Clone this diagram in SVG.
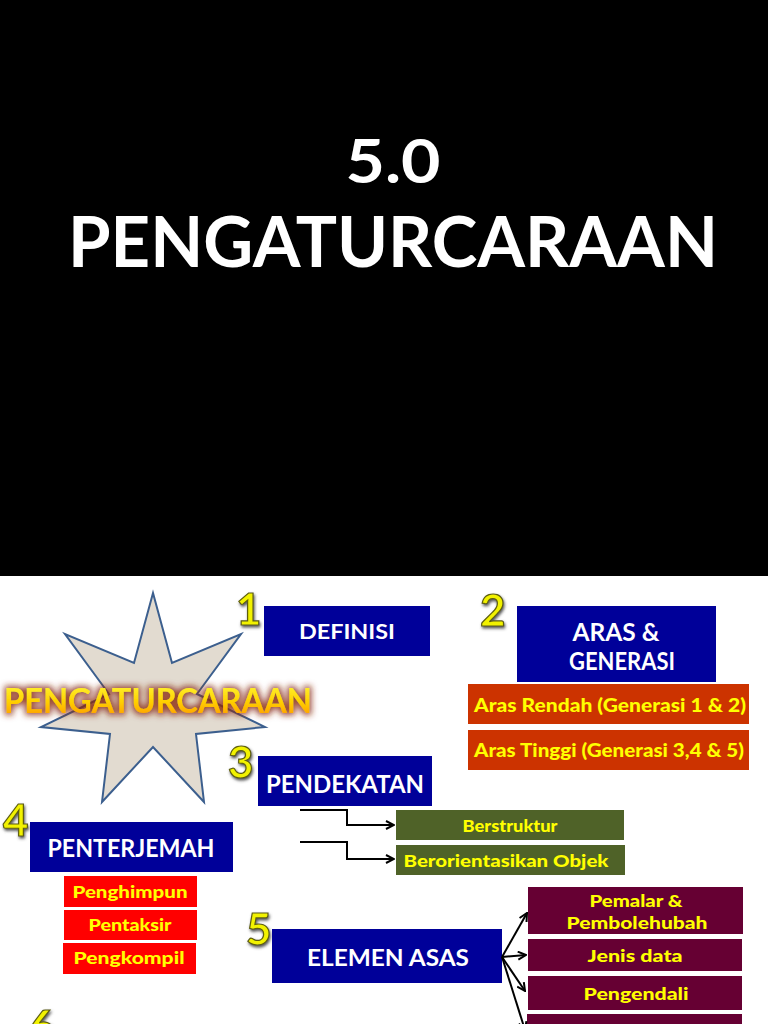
<svg xmlns="http://www.w3.org/2000/svg" width="768" height="1024" viewBox="0 0 768 1024">
<defs>
<style>
.blue{fill:#000099}
.wt{fill:#ffffff;font-family:Lato,"Open Sans","Liberation Sans",sans-serif;font-weight:700;text-anchor:middle}
.yt{fill:#ffff00;font-family:Lato,"Open Sans","Liberation Sans",sans-serif;font-weight:900;text-anchor:middle}
.num{fill:#f2f200;stroke:#5e5e10;stroke-width:1.2;font-family:Lato,"Liberation Sans",sans-serif;font-weight:700;font-size:44px;filter:url(#sh)}
.conn{fill:none;stroke:#000;stroke-width:2}
</style>
<marker id="ah" viewBox="0 0 10 10" refX="9" refY="5" markerWidth="10" markerHeight="10" markerUnits="userSpaceOnUse" orient="auto">
<path d="M1,1 L9,5 L1,9" fill="none" stroke="#000" stroke-width="2"/>
</marker>
<filter id="sh" x="-30%" y="-30%" width="160%" height="160%">
<feGaussianBlur in="SourceAlpha" stdDeviation="1.5"/>
<feOffset dx="1" dy="2" result="b"/>
<feFlood flood-color="#555"/>
<feComposite in2="b" operator="in"/>
<feMerge><feMergeNode/><feMergeNode in="SourceGraphic"/></feMerge>
</filter>
<filter id="glow" x="-10%" y="-40%" width="120%" height="180%">
<feMorphology in="SourceAlpha" operator="dilate" radius="2" result="d"/>
<feGaussianBlur in="d" stdDeviation="3" result="g"/>
<feFlood flood-color="#8a2a14" flood-opacity="0.85"/>
<feComposite in2="g" operator="in"/>
<feMerge><feMergeNode/><feMergeNode in="SourceGraphic"/></feMerge>
</filter>
<linearGradient id="tg" x1="0" y1="0" x2="0" y2="1">
<stop offset="0" stop-color="#ffff40"/>
<stop offset="0.55" stop-color="#ffd000"/>
<stop offset="1" stop-color="#ff9000"/>
</linearGradient>
</defs>

<rect x="0" y="0" width="768" height="576" fill="#000"/>
<rect x="0" y="576" width="768" height="448" fill="#fff"/>

<g id="title">
<text x="393" y="183" fill="#fff" font-family="Lato,'Open Sans',sans-serif" font-weight="700" font-size="62" text-anchor="middle" textLength="95" lengthAdjust="spacingAndGlyphs">5.0</text>
<text x="393" y="267" fill="#fff" font-family="Lato,'Open Sans',sans-serif" font-weight="700" font-size="70" text-anchor="middle" textLength="650" lengthAdjust="spacingAndGlyphs">PENGATURCARAAN</text>
</g>

<g id="star">
<polygon points="153,593 172,663 241,634 197,694 265,727 196,734 204,802 153,747 102,802 110,734 41,727 109,694 65,634 134,663" fill="#e2dbd0" stroke="#3c5f8e" stroke-width="2" stroke-linejoin="miter"/>
<text x="158" y="713" fill="url(#tg)" filter="url(#glow)" font-family="Lato,'Open Sans',sans-serif" font-weight="700" font-size="34" text-anchor="middle" textLength="308" lengthAdjust="spacingAndGlyphs">PENGATURCARAAN</text>
</g>

<g id="numbers">
<text class="num" x="236" y="625">1</text>
<text class="num" x="480" y="626">2</text>
<text class="num" x="228" y="778">3</text>
<text class="num" x="3" y="836">4</text>
<text class="num" x="246" y="945">5</text>
<text class="num" x="29" y="1042">6</text>
</g>

<g id="definisi">
<rect class="blue" x="264" y="606" width="166" height="50"/>
<text class="wt" x="347" y="639" font-size="21" textLength="96" lengthAdjust="spacingAndGlyphs">DEFINISI</text>
</g>

<g id="aras">
<rect class="blue" x="517" y="606" width="199" height="76"/>
<text class="wt" x="616" y="641" font-size="24" textLength="87" lengthAdjust="spacingAndGlyphs">ARAS &amp;</text>
<text class="wt" x="622" y="670" font-size="24" textLength="106" lengthAdjust="spacingAndGlyphs">GENERASI</text>
</g>

<g id="aras-rendah">
<rect x="468" y="684" width="281" height="40" fill="#cc3300"/>
<text class="yt" x="610" y="712" font-size="18" textLength="272" lengthAdjust="spacingAndGlyphs">Aras Rendah (Generasi 1 &amp; 2)</text>
</g>
<g id="aras-tinggi">
<rect x="468" y="730" width="281" height="40" fill="#cc3300"/>
<text class="yt" x="609" y="757" font-size="18" textLength="270" lengthAdjust="spacingAndGlyphs">Aras Tinggi (Generasi 3,4 &amp; 5)</text>
</g>

<g id="pendekatan">
<rect class="blue" x="258" y="756" width="174" height="50"/>
<text class="wt" x="345" y="793" font-size="24" textLength="158" lengthAdjust="spacingAndGlyphs">PENDEKATAN</text>
</g>

<g id="berstruktur">
<rect x="396" y="810" width="228" height="30" fill="#4f6228"/>
<text class="yt" x="510" y="832" font-size="16" textLength="95" lengthAdjust="spacingAndGlyphs">Berstruktur</text>
</g>
<g id="berorientasikan">
<rect x="396" y="845" width="229" height="30" fill="#4f6228"/>
<text class="yt" x="506" y="867" font-size="16" textLength="205" lengthAdjust="spacingAndGlyphs">Berorientasikan Objek</text>
</g>

<g id="penterjemah">
<rect class="blue" x="30" y="822" width="203" height="50"/>
<text class="wt" x="131" y="857" font-size="24" textLength="167" lengthAdjust="spacingAndGlyphs">PENTERJEMAH</text>
</g>

<g id="penghimpun">
<rect x="64" y="876" width="133" height="31" fill="#ff0000"/>
<text class="yt" x="130" y="898" font-size="17" textLength="115" lengthAdjust="spacingAndGlyphs">Penghimpun</text>
</g>
<g id="pentaksir">
<rect x="64" y="910" width="133" height="30" fill="#ff0000"/>
<text class="yt" x="130" y="931" font-size="17" textLength="83" lengthAdjust="spacingAndGlyphs">Pentaksir</text>
</g>
<g id="pengkompil">
<rect x="63" y="943" width="133" height="31" fill="#ff0000"/>
<text class="yt" x="129" y="964" font-size="17" textLength="111" lengthAdjust="spacingAndGlyphs">Pengkompil</text>
</g>

<g id="elemen-asas">
<rect class="blue" x="272" y="929" width="230" height="54"/>
<text class="wt" x="388" y="966" font-size="23" textLength="162" lengthAdjust="spacingAndGlyphs">ELEMEN ASAS</text>
</g>

<g id="pemalar">
<rect x="528" y="887" width="215" height="47" fill="#660033"/>
<text class="yt" x="636" y="907" font-size="17" textLength="93" lengthAdjust="spacingAndGlyphs">Pemalar &amp;</text>
<text class="yt" x="637" y="929" font-size="17" textLength="141" lengthAdjust="spacingAndGlyphs">Pembolehubah</text>
</g>
<g id="jenis-data">
<rect x="528" y="939" width="214" height="32" fill="#660033"/>
<text class="yt" x="635" y="962" font-size="17" textLength="95" lengthAdjust="spacingAndGlyphs">Jenis data</text>
</g>
<g id="pengendali">
<rect x="528" y="976" width="214" height="34" fill="#660033"/>
<text class="yt" x="636" y="1000" font-size="17" textLength="105" lengthAdjust="spacingAndGlyphs">Pengendali</text>
</g>
<g id="elemen-4">
<rect x="527" y="1014" width="215" height="20" fill="#660033"/>
</g>

<g id="connectors">
<path class="conn" d="M300,810 H347 V825 H394" marker-end="url(#ah)"/>
<path class="conn" d="M300,842 H347 V859 H394" marker-end="url(#ah)"/>
<path class="conn" d="M502,957 L527,913" marker-end="url(#ah)"/>
<path class="conn" d="M502,957 L526,955" marker-end="url(#ah)"/>
<path class="conn" d="M502,957 L525,991" marker-end="url(#ah)"/>
<path class="conn" d="M502,957 L525,1030" marker-end="url(#ah)"/>
</g>
</svg>
